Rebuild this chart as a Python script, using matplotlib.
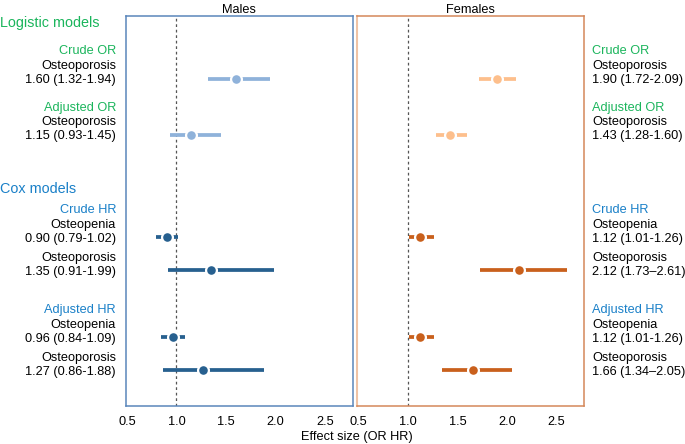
import matplotlib
matplotlib.use('Agg')
import matplotlib.pyplot as plt

plt.rcParams['font.family'] = ['Liberation Sans', 'DejaVu Sans']

# data
row_headers = ['Crude OR', 'Adjusted OR', 'Crude HR', None, 'Adjusted HR', None]
row_names = ['Osteoporosis', 'Osteoporosis', 'Osteopenia', 'Osteoporosis', 'Osteopenia', 'Osteoporosis']
row_model = ['OR', 'OR', 'HR', 'HR', 'HR', 'HR']

males_est = [1.60, 1.15, 0.90, 1.35, 0.96, 1.27]
males_lo = [1.32, 0.93, 0.79, 0.91, 0.84, 0.86]
males_hi = [1.94, 1.45, 1.02, 1.99, 1.09, 1.88]
males_text = ['1.60 (1.32-1.94)', '1.15 (0.93-1.45)', '0.90 (0.79-1.02)',
              '1.35 (0.91-1.99)', '0.96 (0.84-1.09)', '1.27 (0.86-1.88)']

females_est = [1.90, 1.43, 1.12, 2.12, 1.12, 1.66]
females_lo = [1.72, 1.28, 1.01, 1.73, 1.01, 1.34]
females_hi = [2.09, 1.60, 1.26, 2.61, 1.26, 2.05]
females_text = ['1.90 (1.72-2.09)', '1.43 (1.28-1.60)', '1.12 (1.01-1.26)',
                '2.12 (1.73\u20132.61)', '1.12 (1.01-1.26)', '1.66 (1.34\u20132.05)']

x_ticks = [0.5, 1.0, 1.5, 2.0, 2.5]

# layout (vertical positions in pixels from the top of the figure)
W, H = 685, 444
row_y = [79, 135, 237, 270, 337, 370]
section_titles = ['Logistic models', 'Cox models']
section_y = [23, 189]

GREEN = '#1bb55c'
BLUE = '#1a80c8'
males_colors = {'OR': '#8fb2da', 'HR': '#27608f'}
females_colors = {'OR': '#fdbf8c', 'HR': '#c9601c'}
header_color = {'OR': GREEN, 'HR': BLUE}

fig = plt.figure(figsize=(W / 100, H / 100), dpi=100)
ax_top, ax_bot = 15.7, 406.0
ax_m = fig.add_axes([126 / W, 1 - ax_bot / H, 226.7 / W, (ax_bot - ax_top) / H])
ax_f = fig.add_axes([357.3 / W, 1 - ax_bot / H, 227 / W, (ax_bot - ax_top) / H])


def draw_panel(ax, est, lo, hi, colors, edge, title):
    ax.set_xlim(0.49, 2.78)
    # y in pixel coordinates so text and marks line up
    ax.set_ylim(ax_bot, ax_top)
    ax.axvline(1.0, color='#555555', lw=0.9, dashes=(2.2, 2.2), zorder=1)
    for i in range(len(est)):
        c = colors[row_model[i]]
        ax.plot([lo[i], hi[i]], [row_y[i], row_y[i]], color=c, lw=2.7,
                solid_capstyle='butt', zorder=2)
        ax.plot(est[i], row_y[i], 'o', color=c, ms=7.8, mec='white', mew=1.6, zorder=3)
    ax.set_xticks(x_ticks)
    ax.set_xticklabels(['{:.1f}'.format(t) for t in x_ticks])
    ax.set_yticks([])
    ax.tick_params(axis='x', length=0, pad=7, labelsize=9.2)
    for s in ax.spines.values():
        s.set_color(edge)
        s.set_linewidth(1.1)
    ax.set_title(title, fontsize=9.2, pad=2)


draw_panel(ax_m, males_est, males_lo, males_hi, males_colors, '#5a86bb', 'Males')
draw_panel(ax_f, females_est, females_lo, females_hi, females_colors, '#d4875a', 'Females')
ax_f.spines['left'].set_color('#efc3a5')
ax_f.spines['left'].set_linewidth(1.5)


def fig_y(py):
    return 1 - py / H


# row labels on both sides
for texts, x, ha in [(males_text, 116 / W, 'right'), (females_text, 592 / W, 'left')]:
    for i in range(len(row_y)):
        vy = row_y[i] + 1.5
        fig.text(x, fig_y(vy), texts[i], ha=ha, va='center', fontsize=9.2)
        fig.text(x, fig_y(vy - 14), row_names[i], ha=ha, va='center', fontsize=9.2)
        if row_headers[i] is not None:
            fig.text(x, fig_y(vy - 29), row_headers[i], ha=ha, va='center', fontsize=9.2,
                     color=header_color[row_model[i]])

for t, y, c in zip(section_titles, section_y, [GREEN, BLUE]):
    fig.text(0.0, fig_y(y), t, ha='left', va='center', fontsize=10.4, color=c)

fig.text(356.7 / W, fig_y(437), 'Effect size (OR HR)', ha='center', va='center', fontsize=9.2)

fig.savefig('out.png', dpi=100)
